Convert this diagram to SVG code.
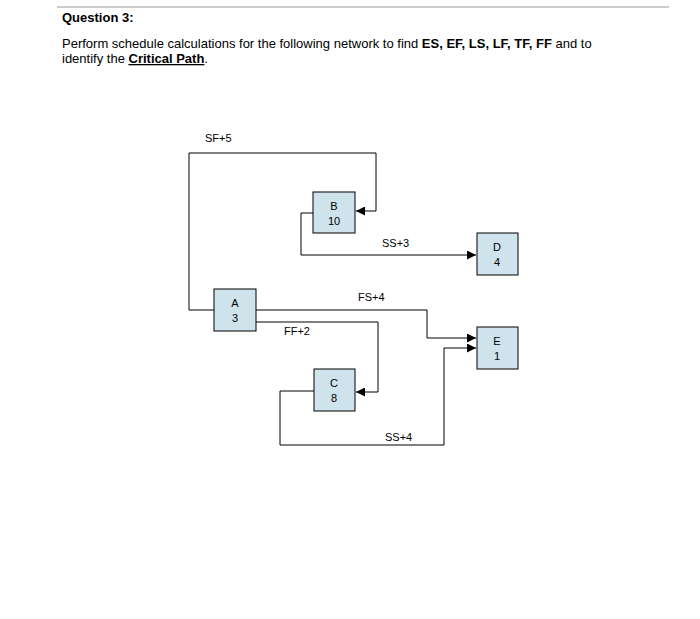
<svg xmlns="http://www.w3.org/2000/svg" width="700" height="619" viewBox="0 0 700 619">
<style>
text{font-family:"Liberation Sans",Arial,sans-serif;fill:#000}
.t{font-size:13px}
.n{font-size:11px;text-anchor:middle}
.l{font-size:11px}
rect.box{fill:#cfe3ec;stroke:#000;stroke-width:1}
.c path{fill:none;stroke:#000;stroke-width:1}
</style>
<defs><marker id="ar" viewBox="0 0 10 10" refX="10" refY="5" markerWidth="9" markerHeight="9" markerUnits="userSpaceOnUse" orient="auto"><path d="M0,0L10,5L0,10z" fill="#000"/></marker></defs>
<rect width="700" height="619" fill="#fff"/>
<line x1="57" y1="7" x2="669" y2="7" stroke="#999" stroke-width="1"/>
<text class="t" x="62" y="22" font-weight="bold">Question 3:</text>
<text class="t" x="62" y="48">Perform schedule calculations for the following network to find <tspan font-weight="bold">ES, EF, LS, LF, TF, FF</tspan> and to</text>
<text class="t" x="62" y="63">identify the <tspan font-weight="bold" text-decoration="underline">Critical Path</tspan>.</text>
<g class="c" id="connectors">
<path d="M214,310H189V153H376V211H356" marker-end="url(#ar)"/>
<path d="M313,213H301V255H476" marker-end="url(#ar)"/>
<path d="M256,310H427V338H476" marker-end="url(#ar)"/>
<path d="M256,322H378V392H356" marker-end="url(#ar)"/>
<path d="M314,391H280V445H444V348H476" marker-end="url(#ar)"/>
<text class="l" x="205" y="142">SF+5</text>
<text class="l" x="382" y="247">SS+3</text>
<text class="l" x="358" y="301">FS+4</text>
<text class="l" x="284" y="335">FF+2</text>
<text class="l" x="385" y="441">SS+4</text>
</g>
<g id="A"><rect class="box" x="214" y="289" width="42" height="42"/><text class="n" x="235" y="307">A</text><text class="n" x="235" y="322">3</text></g>
<g id="B"><rect class="box" x="313" y="192" width="42" height="41"/><text class="n" x="334" y="210">B</text><text class="n" x="334" y="225">10</text></g>
<g id="C"><rect class="box" x="314" y="369" width="41" height="42"/><text class="n" x="334" y="387">C</text><text class="n" x="334" y="402">8</text></g>
<g id="D"><rect class="box" x="477" y="233" width="41" height="42"/><text class="n" x="497" y="251">D</text><text class="n" x="497" y="266">4</text></g>
<g id="E"><rect class="box" x="477" y="327" width="41" height="42"/><text class="n" x="497" y="345">E</text><text class="n" x="497" y="360">1</text></g>
</svg>
